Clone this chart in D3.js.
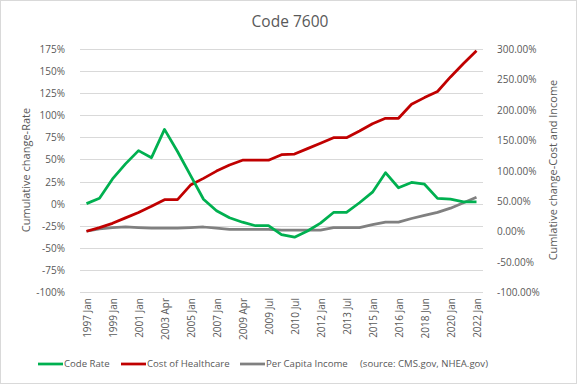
<!DOCTYPE html>
<html><head><meta charset="utf-8">
<script src="https://cdn.jsdelivr.net/npm/d3@7"></script>
<style>body{margin:0;background:#fff}svg{display:block}text{font-family:"Open Sans",sans-serif;fill:#595959}</style>
</head><body><svg id="c" width="577" height="384"></svg>
<script>
const categories = ["1997 Jan","1998 Jan","1999 Jan","2000 Jan","2001 Jan","2002 Jan","2003 Apr","2004 Jan","2005 Jan","2006 Jan","2007 Jan","2008 Jan","2009 Apr","2009 Jun","2009 Jul","2010 Jan","2010 Jul","2011 Jan","2012 Jan","2012 Jul","2013 Jul","2014 Jan","2015 Jan","2015 Jul","2016 Jan","2017 Jan","2018 Jun","2019 Jan","2020 Jan","2021 Jan","2022 Jan"];
const tickLabels = ["1997 Jan","1999 Jan","2001 Jan","2003 Apr","2005 Jan","2007 Jan","2009 Apr","2009 Jul","2010 Jul","2012 Jan","2013 Jul","2015 Jan","2016 Jan","2018 Jun","2020 Jan","2022 Jan"];
const codeRate = [0,6,28,45,60,52,84,59,32,5,-8,-16,-21,-25,-25,-35,-38,-31,-22,-10,-10,1,13,35,18,24,22,6,5,2,2];
const costHealthcare = [0,6,13,22,31,41,52,52,76,87,99,109,117,117,117,126,127,136,145,154,154,165,177,186,186,209,220,230,254,276,297];
const perCapitaIncome = [0,4,6,7,6,5,5,5,6,7,5,3,3,3,3,2,2,2,2,6,6,6,11,15,15,21,26,31,38,47,56];
const leftTicks = [-100,-75,-50,-25,0,25,50,75,100,125,150,175];
const rightTicks = [-100,-50,0,50,100,150,200,250,300];
const seriesNames = ["Code Rate","Cost of Healthcare","Per Capita Income"];
const sourceNote = "(source: CMS.gov, NHEA.gov)";
const title = "Code 7600";

const svg = d3.select("#c");
const W=577,H=384;
svg.append("rect").attr("x",0.5).attr("y",0.5).attr("width",W-1).attr("height",H-1).attr("fill","#fff").attr("stroke","#d9d9d9");
const L=80,R=483,T=49,B=292;
const x = d3.scalePoint().domain(categories).range([L,R]).padding(0.5);
const yL = d3.scaleLinear().domain([-100,175]).range([B,T]);
const yR = d3.scaleLinear().domain([-100,300]).range([B,T]);

svg.append("text").attr("x",290).attr("y",27).attr("text-anchor","middle").style("font-size","15.5px").text(title);

// gridlines
svg.append("g").selectAll("line").data(leftTicks).join("line")
  .attr("x1",L).attr("x2",R).attr("y1",d=>Math.round(yL(d))+0.5).attr("y2",d=>Math.round(yL(d))+0.5)
  .attr("stroke","#d9d9d9").attr("stroke-width",1);

// left axis
const gl = svg.append("g").attr("transform",`translate(${L-12},0)`)
  .call(d3.axisLeft(yL).tickValues(leftTicks).tickSize(0).tickFormat(d=>d+"%"));
gl.select(".domain").remove();
gl.selectAll("text").style("font-size","10px").attr("fill","#595959").attr("dy","0.35em");

// right axis
const gr = svg.append("g").attr("transform",`translate(${R+11},0)`)
  .call(d3.axisRight(yR).tickValues(rightTicks).tickSize(0).tickFormat(d=>d.toFixed(2)+"%"));
gr.select(".domain").remove();
gr.selectAll("text").style("font-size","10px").attr("fill","#595959").attr("dy","0.35em");

// x axis labels
const gx = svg.append("g").attr("transform",`translate(0,${B+6})`)
  .call(d3.axisBottom(x).tickValues(tickLabels).tickSize(0));
gx.select(".domain").remove();
gx.selectAll("text").style("font-size","10px").attr("fill","#595959")
  .attr("transform","rotate(-90)").attr("text-anchor","end").attr("x",0).attr("y",0).attr("dx","0").attr("dy","0.35em");

// axis titles
svg.append("text").attr("transform","translate(30,170) rotate(-90)").attr("text-anchor","middle").style("font-size","11px").text("Cumulative change-Rate");
svg.append("text").attr("transform","translate(557,170) rotate(-90)").attr("text-anchor","middle").style("font-size","11px").text("Cumlative change-Cost and Income");

const colors = ["#00b050","#c00000","#808080"];
const lineL = d3.line().x((d,i)=>x(categories[i])).y(d=>yL(d));
const lineR = d3.line().x((d,i)=>x(categories[i])).y(d=>yR(d));
svg.append("path").datum(perCapitaIncome).attr("d",lineR).attr("fill","none").attr("stroke",colors[2]).attr("stroke-width",2.75).attr("stroke-linejoin","round");
svg.append("path").datum(costHealthcare).attr("d",lineR).attr("fill","none").attr("stroke",colors[1]).attr("stroke-width",2.75).attr("stroke-linejoin","round");
svg.append("path").datum(codeRate).attr("d",lineL).attr("fill","none").attr("stroke",colors[0]).attr("stroke-width",2.75).attr("stroke-linejoin","round");

// legend
const ly = 364;
const legendX = [38,121,240];
seriesNames.forEach((n,i)=>{
  svg.append("line").attr("x1",legendX[i]).attr("x2",legendX[i]+25).attr("y1",ly).attr("y2",ly).attr("stroke",colors[i]).attr("stroke-width",2.75);
  svg.append("text").attr("x",legendX[i]+26).attr("y",ly).attr("dy","0.35em").style("font-size","9.6px").text(n);
});
svg.append("text").attr("x",360).attr("y",ly).attr("dy","0.35em").style("font-size","9.6px").text(sourceNote);
</script></body></html>
